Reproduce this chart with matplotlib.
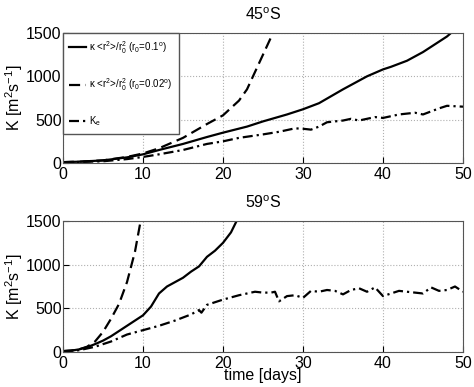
import matplotlib
matplotlib.use("Agg")
import matplotlib.pyplot as plt
import numpy as np

plt.rcParams['font.family'] = ['Liberation Sans', 'DejaVu Sans']
plt.rcParams['mathtext.default'] = 'regular'

# 45S panel
t45_a = [0, 2, 5, 8, 10, 12, 15, 18, 20, 23, 25, 28, 30, 32, 35, 38, 40, 41, 43, 45, 48, 48.5]
k45_a = [10, 15, 30, 65, 100, 150, 220, 300, 350, 420, 480, 560, 620, 690, 850, 1000, 1080, 1110, 1180, 1280, 1460, 1500]
t45_b = [0, 2, 5, 8, 10, 12, 15, 18, 20, 22, 23, 24, 25, 26, 26.3]
k45_b = [10, 15, 30, 70, 110, 170, 290, 450, 550, 720, 850, 1050, 1250, 1450, 1500]
t45_e = [0, 2, 5, 8, 10, 12, 15, 18, 20, 22, 25, 27, 29, 30, 31, 32, 33, 35, 36, 37, 39, 40, 42, 44, 45, 47, 48, 50]
k45_e = [10, 12, 20, 45, 70, 100, 150, 220, 250, 290, 330, 360, 400, 395, 385, 420, 470, 490, 510, 490, 530, 520, 560, 580, 560, 630, 660, 650]

# 59S panel
t59_a = [0, 1, 2, 3, 4, 5, 6, 7, 8, 9, 10, 11, 12, 13, 14, 15, 16, 17, 18, 19, 20, 21, 21.7]
k59_a = [10, 15, 30, 55, 90, 130, 180, 240, 300, 360, 420, 520, 670, 750, 800, 850, 920, 980, 1090, 1160, 1250, 1370, 1500]
t59_b = [0, 1, 2, 3, 4, 5, 6, 7, 8, 9, 9.7]
k59_b = [10, 15, 30, 60, 120, 230, 380, 550, 800, 1150, 1500]
t59_e = [0, 2, 4, 6, 8, 10, 12, 14, 16, 17, 17.3, 18, 20, 22, 24, 25, 26, 26.5, 27, 28, 29, 30, 31, 32, 33, 34, 35,
         36, 37, 38, 39, 40, 41, 42, 43, 44, 45, 46, 47, 48, 49, 50]
k59_e = [10, 20, 60, 120, 200, 250, 300, 360, 430, 480, 450, 540, 600, 650, 690, 680, 680, 690, 580, 640, 650, 620,
         700, 690, 710, 700, 660, 710, 730, 690, 740, 640, 670, 700, 690, 680, 670, 740, 700, 710, 750, 690]

labels = [r'$\kappa$ <r$^2$>/r$_0^2$ (r$_0$=0.1$^o$)',
          r'$\kappa$ <r$^2$>/r$_0^2$ (r$_0$=0.02$^o$)',
          r'K$_e$']

fig = plt.figure(figsize=(4.74, 3.87), dpi=100)
ax1 = fig.add_axes([63 / 474, 1 - 163 / 387, 400 / 474, 130 / 387])
ax2 = fig.add_axes([63 / 474, 1 - 352 / 387, 400 / 474, 131 / 387])

panels = [(ax1, '45$^o$S', (t45_a, k45_a), (t45_b, k45_b), (t45_e, k45_e)),
          (ax2, '59$^o$S', (t59_a, k59_a), (t59_b, k59_b), (t59_e, k59_e))]

for ax, title, a, b, e in panels:
    ax.plot(a[0], a[1], color='k', lw=1.6, label=labels[0])
    ax.plot(b[0], b[1], color='k', lw=1.6, dashes=(5, 2.5), label=labels[1])
    ax.plot(e[0], e[1], color='k', lw=1.6, dashes=(4.5, 1.8, 1, 1.8), label=labels[2])
    ax.set_xlim(0, 50)
    ax.set_ylim(0, 1500)
    ax.set_xticks([0, 10, 20, 30, 40, 50])
    ax.set_yticks([0, 500, 1000, 1500])
    ax.grid(True, linestyle=':', color='#b0b0b0', lw=0.8)
    ax.tick_params(direction='in', labelsize=11.5, length=4)
    ax.tick_params(axis='x', pad=3)
    ax.tick_params(axis='y', pad=1)
    ax.set_title(title, fontsize=11.5, pad=9)
    ax.set_ylabel('K [m$^2$s$^{-1}$]', fontsize=11.5, labelpad=1)
    for s in ax.spines.values():
        s.set_color('#555555')

ax2.set_xlabel('time [days]', fontsize=11.5, labelpad=-2)

leg = ax1.legend(loc='upper left', fontsize=7, labelspacing=2.15, handlelength=1.8,
                 handletextpad=0.3, borderaxespad=0, fancybox=False, framealpha=1,
                 borderpad=0.6)
leg.get_frame().set_edgecolor('#555555')
leg.get_frame().set_linewidth(1.0)

fig.savefig('out.png', dpi=100)
